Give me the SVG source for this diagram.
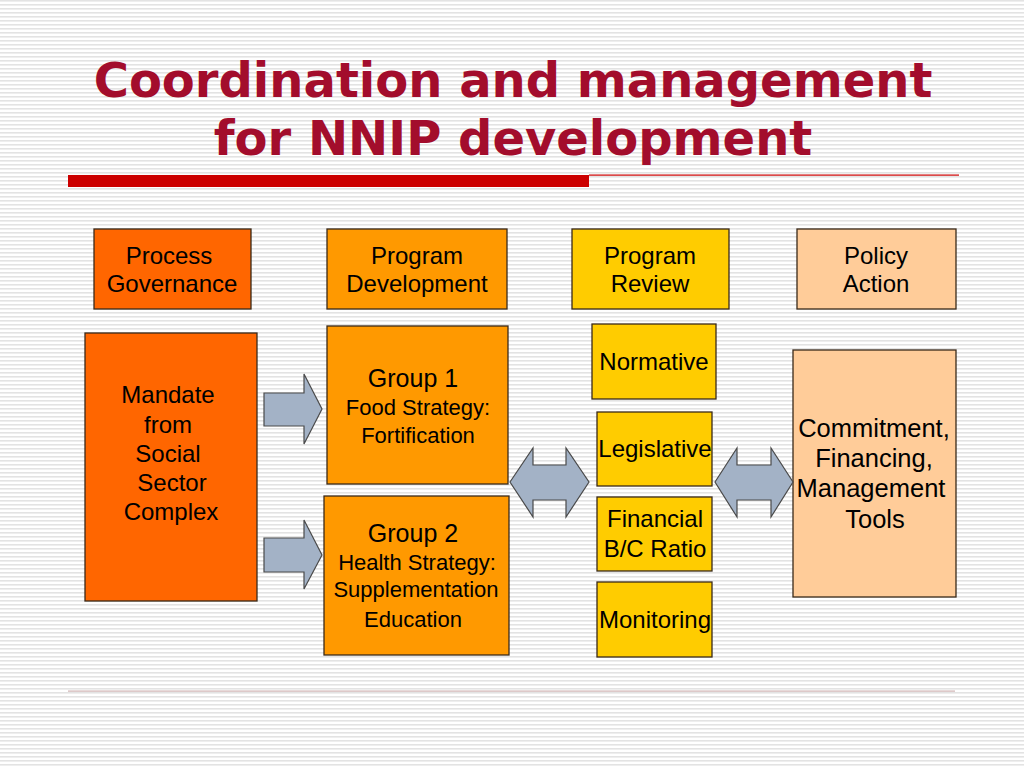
<svg xmlns="http://www.w3.org/2000/svg" width="1024" height="768" viewBox="0 0 1024 768">
<defs>
<pattern id="stripes" x="0" y="0" width="8" height="4" patternUnits="userSpaceOnUse">
<rect x="0" y="0" width="8" height="4" fill="#ffffff"/>
<rect x="0" y="0" width="8" height="1.6" fill="#e3e3e3"/>
</pattern>
<style>
.box{stroke:#3a2a1a;stroke-width:1.3}
.t{font-family:"Liberation Sans",Arial,sans-serif;font-size:24px;fill:#000;text-anchor:middle}
.s{font-size:22px}
.g{font-size:25px}
.p{font-size:25.5px}
.title{font-family:"DejaVu Sans",Verdana,sans-serif;font-weight:bold;font-size:48px;fill:#a30d2c;text-anchor:middle}
.arr{fill:#a3b2c6;stroke:#4a4a4a;stroke-width:1.2}
</style>
</defs>
<rect width="1024" height="768" fill="url(#stripes)"/>
<g id="title">
<text class="title" x="513" y="97">Coordination and management</text>
<text class="title" x="513" y="155">for NNIP development</text>
<rect x="68" y="175" width="521" height="12" fill="#cc0000"/>
<rect x="589" y="174.5" width="370" height="1.2" fill="#cc0000"/>
<rect x="68" y="690.5" width="887" height="1.2" fill="#cfb3b3"/>
</g>
<g id="h-process"><rect class="box" x="94" y="229" width="157" height="80" fill="#ff6600"/><text class="t" x="169" y="264">Process</text><text class="t" x="172" y="292">Governance</text></g>
<g id="h-program-dev"><rect class="box" x="327" y="229" width="180" height="80" fill="#ff9900"/><text class="t" x="417" y="264">Program</text><text class="t" x="417" y="292">Development</text></g>
<g id="h-program-review"><rect class="box" x="572" y="229" width="157" height="80" fill="#ffcc00"/><text class="t" x="650" y="264">Program</text><text class="t" x="650" y="292">Review</text></g>
<g id="h-policy"><rect class="box" x="797" y="229" width="159" height="80" fill="#ffcc99"/><text class="t" x="876" y="264">Policy</text><text class="t" x="876" y="292">Action</text></g>
<g id="mandate"><rect class="box" x="85" y="333" width="172" height="268" fill="#ff6600"/>
<text class="t" x="168" y="403">Mandate</text><text class="t" x="168" y="433">from</text><text class="t" x="168" y="462">Social</text><text class="t" x="172" y="491">Sector</text><text class="t" x="171" y="520">Complex</text></g>
<g id="group1"><rect class="box" x="327" y="326" width="181" height="158" fill="#ff9900"/>
<text class="t g" x="413" y="387">Group 1</text><text class="t s" x="418" y="415">Food Strategy:</text><text class="t s" x="418" y="443">Fortification</text></g>
<g id="group2"><rect class="box" x="324" y="496" width="185" height="159" fill="#ff9900"/>
<text class="t g" x="413" y="542">Group 2</text><text class="t s" x="417" y="570">Health Strategy:</text><text class="t s" x="416" y="597">Supplementation</text><text class="t s" x="413" y="627">Education</text></g>
<g id="normative"><rect class="box" x="592" y="324" width="124" height="75" fill="#ffcc00"/><text class="t" x="654" y="370">Normative</text></g>
<g id="legislative"><rect class="box" x="597" y="412" width="115" height="74" fill="#ffcc00"/><text class="t" x="655" y="457">Legislative</text></g>
<g id="financial"><rect class="box" x="597" y="497" width="115" height="74" fill="#ffcc00"/><text class="t" x="655" y="527">Financial</text><text class="t" x="655" y="557">B/C Ratio</text></g>
<g id="monitoring"><rect class="box" x="597" y="582" width="115" height="75" fill="#ffcc00"/><text class="t" x="655" y="628">Monitoring</text></g>
<g id="policy"><rect class="box" x="793" y="350" width="163" height="247" fill="#ffcc99"/>
<text class="t p" x="874" y="437">Commitment,</text><text class="t p" x="874" y="467">Financing,</text><text class="t p" x="871" y="497">Management</text><text class="t p" x="875" y="528">Tools</text></g>
<g id="connectors">
<polygon class="arr" points="264,393 304,393 304,374 322,409 304,444 304,426 264,426"/>
<polygon class="arr" points="264,538 304,538 304,520 322,555 304,589 304,572 264,572"/>
<polygon class="arr" points="510,482 533,448 533,465 566,465 566,448 589,482 566,517 566,500 533,500 533,517"/>
<polygon class="arr" points="715,482 737,448 737,465 771,465 771,448 793,482 771,517 771,500 737,500 737,517"/>
</g>
</svg>
